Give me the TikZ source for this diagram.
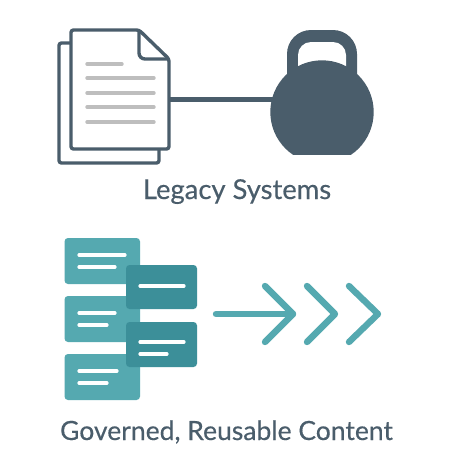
\documentclass[tikz,border=0pt]{standalone}
\usepackage{fontspec}
\setmainfont{Lato}[FakeBold=0.35]
\definecolor{slate}{HTML}{4A5D6B}
\definecolor{tealL}{HTML}{55A9B0}
\definecolor{tealD}{HTML}{3C8F99}
\definecolor{graybar}{HTML}{BEBEBE}
\tikzset{
  docline/.style={draw=slate,line width=3.4pt,line join=round,rounded corners=2.5pt,fill=white},
  graytext/.style={draw=graybar,line width=3.4pt,line cap=round},
  card/.style={rounded corners=3.5pt,fill=#1},
  cardline/.style={draw=white,line width=3.2pt,line cap=round},
  flow/.style={draw=tealL,line width=6.4pt,line cap=round,line join=round},
  caption/.style={text=slate,font=\fontsize{26.5}{30}\selectfont,anchor=base,inner sep=0pt,draw=none},
  captionB/.style={caption,font=\fontsize{27.4}{30}\selectfont},
}
\begin{document}
\begin{tikzpicture}[x=1pt,y=-1pt]
\useasboundingbox[fill=white] (0,0) rectangle (474,474);
% back page
\draw[docline] (71,43) -- (59,43) -- (59,163) -- (159,163) -- (159,149);
% connector
\coordinate (docR) at (169,99);
\coordinate (ballL) at (275,99);
\draw[draw=slate,line width=5pt] (docR) -- (ballL);
% front page
\draw[docline] (71,30) -- (139,30) -- (169,59) -- (169,149) -- (71,149) -- cycle;
\draw[draw=slate,line width=3.4pt,line join=round,rounded corners=6pt] (139,30) -- (139,59) -- (169,59);
\foreach \ya/\xb in {64/122,78/154,93/154,107/154,122/154}
  \draw[graytext] (87,\ya) -- (\xb,\ya);
% kettlebell
\fill[slate,rounded corners=24pt] (287,100) -- (287,30) -- (357,30) -- (357,100) -- cycle;
\fill[white,rounded corners=13pt] (298,100) -- (298,42) -- (346,42) -- (346,100) -- cycle;
\begin{scope}
\clip (260,50) rectangle (390,154);
\fill[slate] (322,112) circle[radius=51.7pt];
\end{scope}
\node[captionB] (legacy) at (237,199) {Legacy Systems};
% cards
\fill[card=tealL] (64.5,238) rectangle (140,284);
\fill[card=tealL] (64.5,296) rectangle (140,342);
\fill[card=tealL] (64.5,354) rectangle (140,400);
\draw[cardline] (79,255) -- (125,255);
\draw[cardline] (79,267) -- (115,267);
\draw[cardline] (79,313) -- (115,313);
\draw[cardline] (79,325) -- (107,325);
\draw[cardline] (79,371) -- (117,371);
\draw[cardline] (79,383) -- (107,383);
\fill[card=tealD] (126,265) rectangle (197,309);
\fill[card=tealD] (126,322) rectangle (197,367);
\draw[cardline] (140,286) -- (184,286);
\draw[cardline] (140,342) -- (184,342);
\draw[cardline] (140,354) -- (167,354);
% arrow
\coordinate (arrowS) at (216,314);
\coordinate (arrowE) at (293,314);
\draw[flow] (arrowS) -- (arrowE);
\draw[flow] (265,286) -- (arrowE) -- (265,342);
\draw[flow] (307,286) -- (335,314) -- (307,342);
\draw[flow] (349,286) -- (378,314) -- (349,342);
\node[caption] (governed) at (226.5,440) {Governed, Reusable Content};
\end{tikzpicture}
\end{document}
